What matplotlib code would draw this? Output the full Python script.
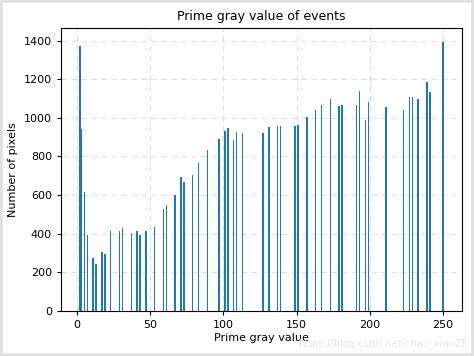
import matplotlib
matplotlib.use("Agg")
import matplotlib.pyplot as plt
from matplotlib.patches import Rectangle

gray_values = [2, 3, 5, 7, 11, 13, 17, 19, 23, 29, 31, 37, 41, 43, 47, 53,
               59, 61, 67, 71, 73, 79, 83, 89, 97, 101, 103, 107, 109, 113,
               127, 131, 137, 139, 149, 151, 157, 163, 167, 173, 179, 181,
               191, 193, 197, 199, 211, 223, 227, 229, 233, 239, 241, 250]
pixel_counts = [1370, 940, 618, 395, 275, 244, 303, 294, 412, 415, 428, 402, 415, 395, 415, 435,
                528, 551, 601, 693, 670, 703, 767, 836, 890, 930, 945, 887, 927, 921,
                923, 952, 958, 958, 956, 964, 1003, 1042, 1068, 1099, 1063, 1068,
                1065, 1138, 987, 1084, 1058, 1039, 1106, 1106, 1098, 1184, 1134, 1392]

title = "Prime gray value of events"
xlabel = "Prime gray value"
ylabel = "Number of pixels"
watermark = "https://blog.csdn.net/chao_xiaoZE"

fig = plt.figure(figsize=(4.74, 3.56), dpi=100)
ax = fig.add_axes([0.1287, 0.1264, 0.846, 0.7949])
ax.bar(gray_values, pixel_counts, width=1.0, color="#1f77b4")
ax.set_xlim(-11, 263)
ax.set_ylim(0, 1465)
ax.set_xticks([0, 50, 100, 150, 200, 250])
ax.set_yticks([0, 200, 400, 600, 800, 1000, 1200, 1400])
ax.grid(True, linestyle=(0, (5, 4)), color="#dddddd", linewidth=0.8)
ax.set_axisbelow(True)
ax.tick_params(labelsize=8, length=3)
ax.set_title(title, fontsize=9)
ax.set_xlabel(xlabel, fontsize=8, labelpad=2)
ax.set_ylabel(ylabel, fontsize=8)

fig.text(0.988, 0.036, watermark, fontsize=7.2, color="#e6e6e6", ha="right", va="center")
fig.patches.append(Rectangle((0, 0), 1, 1, transform=fig.transFigure, fill=False,
                             edgecolor="#e0e0e0", linewidth=4))

fig.savefig("out.png", dpi=100)
